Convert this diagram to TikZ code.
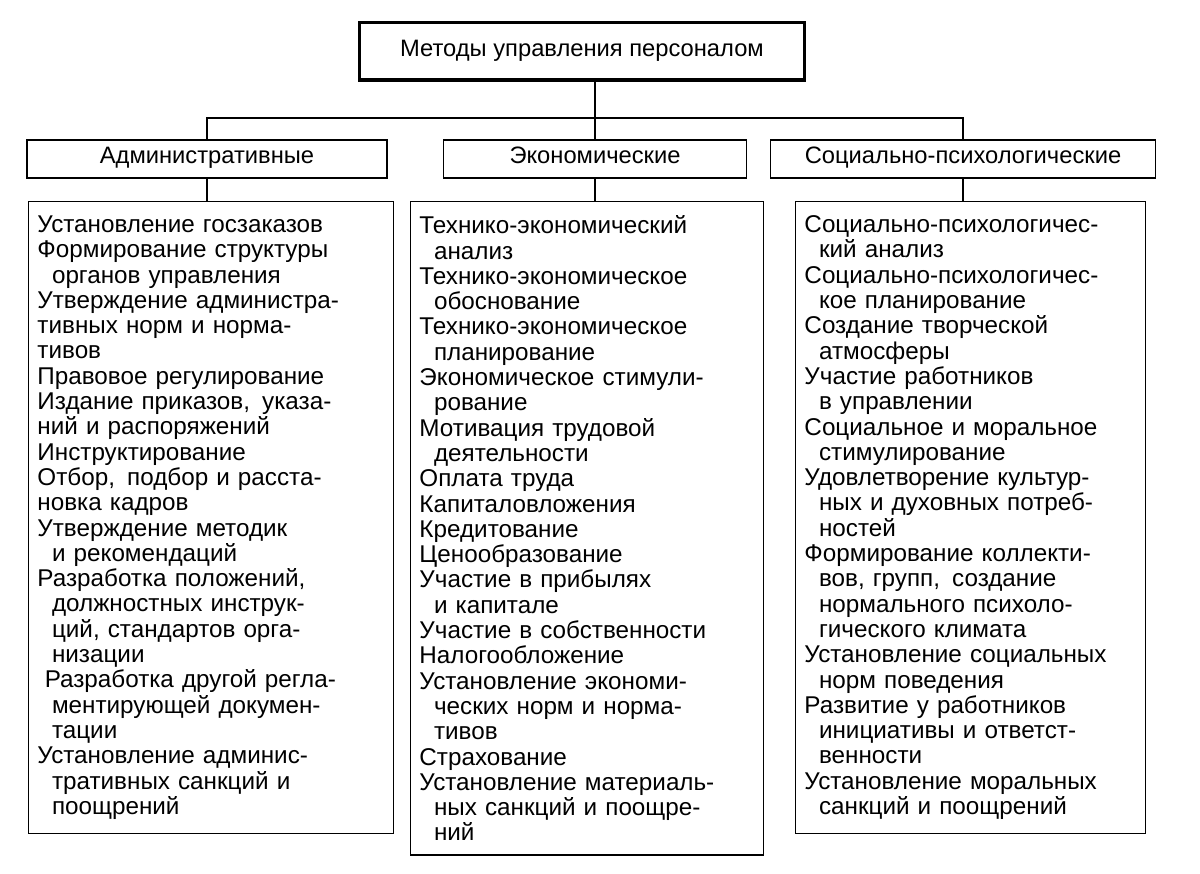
\documentclass[tikz,border=0pt]{standalone}
\usepackage{fontspec}
\setmainfont{Liberation Sans}
\begin{document}
\begin{tikzpicture}[x=0.02cm,y=-0.02cm]

\tikzstyle{topbox}=[rectangle, draw, line width=2pt, minimum width=8.9cm, minimum height=1.15cm, font=\fontsize{13.5}{14}\selectfont]
\tikzstyle{catbox}=[rectangle, draw, thick, minimum height=0.76cm, text height=0.75em, text depth=0.25em, font=\fontsize{13.5}{14}\selectfont]
\tikzstyle{listbox}=[rectangle, draw, thick, anchor=north west, align=left, inner xsep=5pt, inner ysep=8pt, font=\fontsize{13.8}{14.4}\selectfont]
\tikzstyle{link}=[thick]

\useasboundingbox (0,0) rectangle (1200,873);

\node (M) [topbox] at (582,51) {Методы управления персоналом};

\node (A) [catbox, minimum width=7.2cm] at (207,159) {Административные};
\node (E) [catbox, minimum width=6.06cm] at (595,159) {Экономические};
\node (S) [catbox, minimum width=7.7cm] at (963,159) {Социально-психологические};

\node (LA) [listbox, text width=6.95cm] at (28,201) {Установление госзаказов\\
Формирование структуры\\
\hspace*{0.6em}органов управления\\
Утверждение администра-\\
тивных норм и норма-\\
тивов\\
Правовое регулирование\\
Издание приказов,\, указа-\\
ний и распоряжений\\
Инструктирование\\
Отбор,\, подбор и расста-\\
новка кадров\\
Утверждение методик\\
\hspace*{0.6em}и рекомендаций\\
Разработка положений,\\
\hspace*{0.6em}должностных инструк-\\
\hspace*{0.6em}ций, стандартов орга-\\
\hspace*{0.6em}низации\\
\hspace*{0.3em}Разработка другой регла-\\
\hspace*{0.6em}ментирующей докумен-\\
\hspace*{0.6em}тации\\
Установление админис-\\
\hspace*{0.6em}тративных санкций и\\
\hspace*{0.6em}поощрений\\[6pt]};

\node (LE) [listbox, text width=6.7cm] at (410,201) {Технико-экономический\\
\hspace*{0.6em}анализ\\
Технико-экономическое\\
\hspace*{0.6em}обоснование\\
Технико-экономическое\\
\hspace*{0.6em}планирование\\
Экономическое стимули-\\
\hspace*{0.6em}рование\\
Мотивация трудовой\\
\hspace*{0.6em}деятельности\\
Оплата труда\\
Капиталовложения\\
Кредитование\\
Ценообразование\\
Участие в прибылях\\
\hspace*{0.6em}и капитале\\
Участие в собственности\\
Налогообложение\\
Установление экономи-\\
\hspace*{0.6em}ческих норм и норма-\\
\hspace*{0.6em}тивов\\
Страхование\\
Установление материаль-\\
\hspace*{0.6em}ных санкций и поощре-\\
\hspace*{0.6em}ний\\[2pt]};

\node (LS) [listbox, text width=6.65cm] at (795,201) {Социально-психологичес-\\
\hspace*{0.6em}кий анализ\\
Социально-психологичес-\\
\hspace*{0.6em}кое планирование\\
Создание творческой\\
\hspace*{0.6em}атмосферы\\
Участие работников\\
\hspace*{0.6em}в управлении\\
Социальное и моральное\\
\hspace*{0.6em}стимулирование\\
Удовлетворение культур-\\
\hspace*{0.6em}ных и духовных потреб-\\
\hspace*{0.6em}ностей\\
Формирование коллекти-\\
\hspace*{0.6em}вов, групп,\, создание\\
\hspace*{0.6em}нормального психоло-\\
\hspace*{0.6em}гического климата\\
Установление социальных\\
\hspace*{0.6em}норм поведения\\
Развитие у работников\\
\hspace*{0.6em}инициативы и ответст-\\
\hspace*{0.6em}венности\\
Установление моральных\\
\hspace*{0.6em}санкций и поощрений\\[6pt]};

\coordinate (J) at (595,118);
\draw [link] (J |- M.south) -- (J);
\draw [link] (A.north) |- (J) -| (S.north);
\draw [link] (J) -- (E.north);
\draw [link] (A.south) -- (A.south |- LA.north);
\draw [link] (E.south) -- (E.south |- LE.north);
\draw [link] (S.south) -- (S.south |- LS.north);

\end{tikzpicture}
\end{document}
